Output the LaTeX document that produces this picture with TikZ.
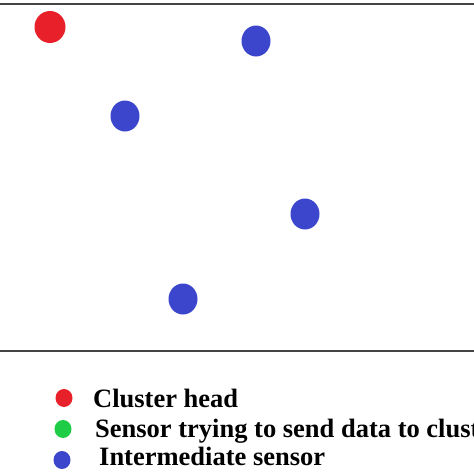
\documentclass[tikz,border=0pt]{standalone}
\usepackage{fontspec}
\setmainfont{Liberation Serif}
\usetikzlibrary{shapes.geometric}
\definecolor{chred}{HTML}{E8202A}
\definecolor{snblue}{HTML}{3B46CC}
\definecolor{sngreen}{HTML}{1FCC45}
\definecolor{framegray}{HTML}{444444}
\begin{document}
\begin{tikzpicture}[x=1pt,y=-1pt,
  frameline/.style={draw=framegray,line width=2.2pt},
  bigdot/.style={ellipse,inner sep=0pt,minimum width=29pt,minimum height=31pt},
  smalldot/.style={ellipse,inner sep=0pt,minimum width=17pt,minimum height=18pt},
  legtext/.style={anchor=base west,inner sep=0pt,font=\fontsize{26.5}{30}\selectfont\bfseries}]
\useasboundingbox (0,0) rectangle (474,474);
\clip (0,0) rectangle (474,474);
\fill[white] (0,0) rectangle (474,474);
\coordinate (tl) at (-5,4);
\coordinate (tr) at (480,4);
\coordinate (bl) at (-5,351);
\coordinate (br) at (480,351);
\draw[frameline] (tl) -- (tr);
\draw[frameline] (bl) -- (br);
\node[bigdot,fill=chred,minimum width=31pt,minimum height=32pt] (ch) at (50,27) {};
\node[bigdot,fill=snblue] (s1) at (256,41) {};
\node[bigdot,fill=snblue] (s2) at (125,116) {};
\node[bigdot,fill=snblue] (s3) at (305,214) {};
\node[bigdot,fill=snblue] (s4) at (183,299) {};
\node[smalldot,fill=chred] (d1) at (64,398) {};
\node[smalldot,fill=sngreen] (d2) at (63,429) {};
\node[smalldot,fill=snblue] (d3) at (62,460) {};
\node[legtext] (l1) at (93,407) {Cluster head};
\node[legtext] (l2) at (95,437) {Sensor trying to send data to cluster head};
\node[legtext] (l3) at (99,465) {Intermediate sensor};
\end{tikzpicture}
\end{document}
